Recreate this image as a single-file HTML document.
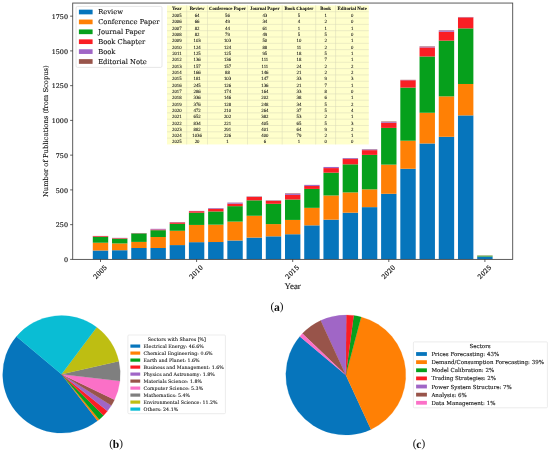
<!DOCTYPE html>
<html><head><meta charset="utf-8"><title>Figure</title>
<style>html,body{margin:0;padding:0;background:#fff}svg{display:block}</style></head>
<body>
<svg width="550" height="455" viewBox="0 0 550 455" text-rendering="geometricPrecision">
<rect width="550" height="455" fill="#fff"/>
<g shape-rendering="auto">
<rect x="92.80" y="250.50" width="15.40" height="8.90" fill="#0675bc"/>
<rect x="92.80" y="242.72" width="15.40" height="7.78" fill="#ff8005"/>
<rect x="92.80" y="236.74" width="15.40" height="5.98" fill="#06a01c"/>
<rect x="92.80" y="236.05" width="15.40" height="0.70" fill="#fa1e24"/>
<rect x="92.80" y="235.91" width="15.40" height="0.14" fill="#a066c6"/>
<rect x="112.02" y="250.23" width="15.40" height="9.17" fill="#0675bc"/>
<rect x="112.02" y="243.41" width="15.40" height="6.81" fill="#ff8005"/>
<rect x="112.02" y="238.69" width="15.40" height="4.73" fill="#06a01c"/>
<rect x="112.02" y="238.13" width="15.40" height="0.56" fill="#fa1e24"/>
<rect x="112.02" y="237.85" width="15.40" height="0.28" fill="#a066c6"/>
<rect x="131.24" y="248.00" width="15.40" height="11.40" fill="#0675bc"/>
<rect x="131.24" y="241.89" width="15.40" height="6.12" fill="#ff8005"/>
<rect x="131.24" y="233.41" width="15.40" height="8.48" fill="#06a01c"/>
<rect x="131.24" y="233.27" width="15.40" height="0.14" fill="#fa1e24"/>
<rect x="131.24" y="233.13" width="15.40" height="0.14" fill="#a066c6"/>
<rect x="131.24" y="232.99" width="15.40" height="0.14" fill="#98544a"/>
<rect x="150.46" y="248.00" width="15.40" height="11.40" fill="#0675bc"/>
<rect x="150.46" y="237.02" width="15.40" height="10.98" fill="#ff8005"/>
<rect x="150.46" y="230.21" width="15.40" height="6.81" fill="#06a01c"/>
<rect x="150.46" y="229.51" width="15.40" height="0.69" fill="#fa1e24"/>
<rect x="150.46" y="228.82" width="15.40" height="0.69" fill="#a066c6"/>
<rect x="169.68" y="245.08" width="15.40" height="14.32" fill="#0675bc"/>
<rect x="169.68" y="230.77" width="15.40" height="14.32" fill="#ff8005"/>
<rect x="169.68" y="223.82" width="15.40" height="6.95" fill="#06a01c"/>
<rect x="169.68" y="222.43" width="15.40" height="1.39" fill="#fa1e24"/>
<rect x="169.68" y="222.15" width="15.40" height="0.28" fill="#a066c6"/>
<rect x="169.68" y="222.01" width="15.40" height="0.14" fill="#98544a"/>
<rect x="188.90" y="242.16" width="15.40" height="17.24" fill="#0675bc"/>
<rect x="188.90" y="224.93" width="15.40" height="17.24" fill="#ff8005"/>
<rect x="188.90" y="212.70" width="15.40" height="12.23" fill="#06a01c"/>
<rect x="188.90" y="211.17" width="15.40" height="1.53" fill="#fa1e24"/>
<rect x="188.90" y="210.89" width="15.40" height="0.28" fill="#a066c6"/>
<rect x="208.12" y="242.02" width="15.40" height="17.38" fill="#0675bc"/>
<rect x="208.12" y="224.65" width="15.40" height="17.38" fill="#ff8005"/>
<rect x="208.12" y="211.44" width="15.40" height="13.20" fill="#06a01c"/>
<rect x="208.12" y="208.94" width="15.40" height="2.50" fill="#fa1e24"/>
<rect x="208.12" y="208.25" width="15.40" height="0.69" fill="#a066c6"/>
<rect x="208.12" y="208.11" width="15.40" height="0.14" fill="#98544a"/>
<rect x="227.34" y="240.50" width="15.40" height="18.90" fill="#0675bc"/>
<rect x="227.34" y="221.59" width="15.40" height="18.90" fill="#ff8005"/>
<rect x="227.34" y="206.16" width="15.40" height="15.43" fill="#06a01c"/>
<rect x="227.34" y="203.66" width="15.40" height="2.50" fill="#fa1e24"/>
<rect x="227.34" y="202.69" width="15.40" height="0.97" fill="#a066c6"/>
<rect x="227.34" y="202.55" width="15.40" height="0.14" fill="#98544a"/>
<rect x="246.56" y="237.58" width="15.40" height="21.82" fill="#0675bc"/>
<rect x="246.56" y="215.75" width="15.40" height="21.82" fill="#ff8005"/>
<rect x="246.56" y="200.32" width="15.40" height="15.43" fill="#06a01c"/>
<rect x="246.56" y="196.99" width="15.40" height="3.34" fill="#fa1e24"/>
<rect x="246.56" y="196.71" width="15.40" height="0.28" fill="#a066c6"/>
<rect x="246.56" y="196.43" width="15.40" height="0.28" fill="#98544a"/>
<rect x="265.78" y="236.33" width="15.40" height="23.07" fill="#0675bc"/>
<rect x="265.78" y="224.09" width="15.40" height="12.23" fill="#ff8005"/>
<rect x="265.78" y="203.80" width="15.40" height="20.29" fill="#06a01c"/>
<rect x="265.78" y="200.88" width="15.40" height="2.92" fill="#fa1e24"/>
<rect x="265.78" y="200.60" width="15.40" height="0.28" fill="#a066c6"/>
<rect x="265.78" y="200.32" width="15.40" height="0.28" fill="#98544a"/>
<rect x="285.00" y="234.24" width="15.40" height="25.16" fill="#0675bc"/>
<rect x="285.00" y="219.92" width="15.40" height="14.32" fill="#ff8005"/>
<rect x="285.00" y="199.49" width="15.40" height="20.43" fill="#06a01c"/>
<rect x="285.00" y="194.90" width="15.40" height="4.59" fill="#fa1e24"/>
<rect x="285.00" y="193.65" width="15.40" height="1.25" fill="#a066c6"/>
<rect x="285.00" y="193.24" width="15.40" height="0.42" fill="#98544a"/>
<rect x="304.22" y="225.34" width="15.40" height="34.06" fill="#0675bc"/>
<rect x="304.22" y="207.83" width="15.40" height="17.51" fill="#ff8005"/>
<rect x="304.22" y="188.93" width="15.40" height="18.90" fill="#06a01c"/>
<rect x="304.22" y="186.01" width="15.40" height="2.92" fill="#fa1e24"/>
<rect x="304.22" y="185.03" width="15.40" height="0.97" fill="#a066c6"/>
<rect x="304.22" y="184.90" width="15.40" height="0.14" fill="#98544a"/>
<rect x="323.44" y="219.65" width="15.40" height="39.75" fill="#0675bc"/>
<rect x="323.44" y="195.46" width="15.40" height="24.19" fill="#ff8005"/>
<rect x="323.44" y="172.66" width="15.40" height="22.80" fill="#06a01c"/>
<rect x="323.44" y="168.08" width="15.40" height="4.59" fill="#fa1e24"/>
<rect x="323.44" y="166.96" width="15.40" height="1.11" fill="#a066c6"/>
<rect x="342.66" y="212.70" width="15.40" height="46.70" fill="#0675bc"/>
<rect x="342.66" y="192.40" width="15.40" height="20.29" fill="#ff8005"/>
<rect x="342.66" y="164.32" width="15.40" height="28.08" fill="#06a01c"/>
<rect x="342.66" y="159.04" width="15.40" height="5.28" fill="#fa1e24"/>
<rect x="342.66" y="158.21" width="15.40" height="0.83" fill="#a066c6"/>
<rect x="342.66" y="158.07" width="15.40" height="0.14" fill="#98544a"/>
<rect x="361.88" y="207.14" width="15.40" height="52.26" fill="#0675bc"/>
<rect x="361.88" y="189.34" width="15.40" height="17.79" fill="#ff8005"/>
<rect x="361.88" y="154.87" width="15.40" height="34.47" fill="#06a01c"/>
<rect x="361.88" y="150.15" width="15.40" height="4.73" fill="#fa1e24"/>
<rect x="361.88" y="149.45" width="15.40" height="0.69" fill="#a066c6"/>
<rect x="361.88" y="149.17" width="15.40" height="0.28" fill="#98544a"/>
<rect x="381.10" y="193.79" width="15.40" height="65.61" fill="#0675bc"/>
<rect x="381.10" y="164.60" width="15.40" height="29.19" fill="#ff8005"/>
<rect x="381.10" y="127.91" width="15.40" height="36.70" fill="#06a01c"/>
<rect x="381.10" y="122.76" width="15.40" height="5.14" fill="#fa1e24"/>
<rect x="381.10" y="122.07" width="15.40" height="0.70" fill="#a066c6"/>
<rect x="381.10" y="121.51" width="15.40" height="0.56" fill="#98544a"/>
<rect x="400.32" y="168.77" width="15.40" height="90.63" fill="#0675bc"/>
<rect x="400.32" y="140.69" width="15.40" height="28.08" fill="#ff8005"/>
<rect x="400.32" y="87.60" width="15.40" height="53.10" fill="#06a01c"/>
<rect x="400.32" y="80.23" width="15.40" height="7.37" fill="#fa1e24"/>
<rect x="400.32" y="79.95" width="15.40" height="0.28" fill="#a066c6"/>
<rect x="400.32" y="79.81" width="15.40" height="0.14" fill="#98544a"/>
<rect x="419.54" y="143.47" width="15.40" height="115.93" fill="#0675bc"/>
<rect x="419.54" y="112.75" width="15.40" height="30.72" fill="#ff8005"/>
<rect x="419.54" y="56.46" width="15.40" height="56.29" fill="#06a01c"/>
<rect x="419.54" y="47.43" width="15.40" height="9.03" fill="#fa1e24"/>
<rect x="419.54" y="46.73" width="15.40" height="0.70" fill="#a066c6"/>
<rect x="419.54" y="46.31" width="15.40" height="0.42" fill="#98544a"/>
<rect x="438.76" y="136.80" width="15.40" height="122.60" fill="#0675bc"/>
<rect x="438.76" y="96.35" width="15.40" height="40.45" fill="#ff8005"/>
<rect x="438.76" y="40.61" width="15.40" height="55.74" fill="#06a01c"/>
<rect x="438.76" y="31.72" width="15.40" height="8.90" fill="#fa1e24"/>
<rect x="438.76" y="30.47" width="15.40" height="1.25" fill="#a066c6"/>
<rect x="438.76" y="30.19" width="15.40" height="0.28" fill="#98544a"/>
<rect x="457.98" y="115.40" width="15.40" height="144.00" fill="#0675bc"/>
<rect x="457.98" y="83.98" width="15.40" height="31.41" fill="#ff8005"/>
<rect x="457.98" y="28.38" width="15.40" height="55.60" fill="#06a01c"/>
<rect x="457.98" y="17.40" width="15.40" height="10.98" fill="#fa1e24"/>
<rect x="457.98" y="17.12" width="15.40" height="0.28" fill="#a066c6"/>
<rect x="457.98" y="16.98" width="15.40" height="0.14" fill="#98544a"/>
<rect x="477.20" y="256.62" width="15.40" height="2.78" fill="#0675bc"/>
<rect x="477.20" y="256.48" width="15.40" height="0.14" fill="#ff8005"/>
<rect x="477.20" y="255.65" width="15.40" height="0.83" fill="#06a01c"/>
<rect x="477.20" y="255.51" width="15.40" height="0.14" fill="#fa1e24"/>
</g>
<rect x="167.0" y="5.4" width="201.80" height="139.04" fill="#ffffcc"/>
<g stroke="#d8d8b8" stroke-width="0.5">
<line x1="167.0" y1="11.72" x2="368.8" y2="11.72"/>
<line x1="167.0" y1="18.04" x2="368.8" y2="18.04"/>
<line x1="167.0" y1="24.36" x2="368.8" y2="24.36"/>
<line x1="167.0" y1="30.68" x2="368.8" y2="30.68"/>
<line x1="167.0" y1="37.00" x2="368.8" y2="37.00"/>
<line x1="167.0" y1="43.32" x2="368.8" y2="43.32"/>
<line x1="167.0" y1="49.64" x2="368.8" y2="49.64"/>
<line x1="167.0" y1="55.96" x2="368.8" y2="55.96"/>
<line x1="167.0" y1="62.28" x2="368.8" y2="62.28"/>
<line x1="167.0" y1="68.60" x2="368.8" y2="68.60"/>
<line x1="167.0" y1="74.92" x2="368.8" y2="74.92"/>
<line x1="167.0" y1="81.24" x2="368.8" y2="81.24"/>
<line x1="167.0" y1="87.56" x2="368.8" y2="87.56"/>
<line x1="167.0" y1="93.88" x2="368.8" y2="93.88"/>
<line x1="167.0" y1="100.20" x2="368.8" y2="100.20"/>
<line x1="167.0" y1="106.52" x2="368.8" y2="106.52"/>
<line x1="167.0" y1="112.84" x2="368.8" y2="112.84"/>
<line x1="167.0" y1="119.16" x2="368.8" y2="119.16"/>
<line x1="167.0" y1="125.48" x2="368.8" y2="125.48"/>
<line x1="167.0" y1="131.80" x2="368.8" y2="131.80"/>
<line x1="167.0" y1="138.12" x2="368.8" y2="138.12"/>
<line x1="186.7" y1="5.4" x2="186.7" y2="144.44"/>
<line x1="207.5" y1="5.4" x2="207.5" y2="144.44"/>
<line x1="247.5" y1="5.4" x2="247.5" y2="144.44"/>
<line x1="282.2" y1="5.4" x2="282.2" y2="144.44"/>
<line x1="315.7" y1="5.4" x2="315.7" y2="144.44"/>
<line x1="335.6" y1="5.4" x2="335.6" y2="144.44"/>
</g>
<g font-family="Liberation Serif, serif" font-size="4.8" text-anchor="middle" fill="#111" stroke="#111" stroke-width="0.07">
<text x="176.85" y="10.46" font-weight="bold">Year</text>
<text x="197.10" y="10.46" font-weight="bold">Review</text>
<text x="227.50" y="10.46" font-weight="bold">Conference Paper</text>
<text x="264.85" y="10.46" font-weight="bold">Journal Paper</text>
<text x="298.95" y="10.46" font-weight="bold">Book Chapter</text>
<text x="325.65" y="10.46" font-weight="bold">Book</text>
<text x="352.20" y="10.46" font-weight="bold">Editorial Note</text>
<text x="176.85" y="17.08">2005</text>
<text x="197.10" y="17.08">64</text>
<text x="227.50" y="17.08">56</text>
<text x="264.85" y="17.08">43</text>
<text x="298.95" y="17.08">5</text>
<text x="325.65" y="17.08">1</text>
<text x="352.20" y="17.08">0</text>
<text x="176.85" y="23.40">2006</text>
<text x="197.10" y="23.40">66</text>
<text x="227.50" y="23.40">49</text>
<text x="264.85" y="23.40">34</text>
<text x="298.95" y="23.40">4</text>
<text x="325.65" y="23.40">2</text>
<text x="352.20" y="23.40">0</text>
<text x="176.85" y="29.72">2007</text>
<text x="197.10" y="29.72">82</text>
<text x="227.50" y="29.72">44</text>
<text x="264.85" y="29.72">61</text>
<text x="298.95" y="29.72">1</text>
<text x="325.65" y="29.72">1</text>
<text x="352.20" y="29.72">1</text>
<text x="176.85" y="36.04">2008</text>
<text x="197.10" y="36.04">82</text>
<text x="227.50" y="36.04">79</text>
<text x="264.85" y="36.04">49</text>
<text x="298.95" y="36.04">5</text>
<text x="325.65" y="36.04">5</text>
<text x="352.20" y="36.04">0</text>
<text x="176.85" y="42.36">2009</text>
<text x="197.10" y="42.36">103</text>
<text x="227.50" y="42.36">103</text>
<text x="264.85" y="42.36">50</text>
<text x="298.95" y="42.36">10</text>
<text x="325.65" y="42.36">2</text>
<text x="352.20" y="42.36">1</text>
<text x="176.85" y="48.68">2010</text>
<text x="197.10" y="48.68">124</text>
<text x="227.50" y="48.68">124</text>
<text x="264.85" y="48.68">88</text>
<text x="298.95" y="48.68">11</text>
<text x="325.65" y="48.68">2</text>
<text x="352.20" y="48.68">0</text>
<text x="176.85" y="55.00">2011</text>
<text x="197.10" y="55.00">125</text>
<text x="227.50" y="55.00">125</text>
<text x="264.85" y="55.00">95</text>
<text x="298.95" y="55.00">18</text>
<text x="325.65" y="55.00">5</text>
<text x="352.20" y="55.00">1</text>
<text x="176.85" y="61.32">2012</text>
<text x="197.10" y="61.32">136</text>
<text x="227.50" y="61.32">136</text>
<text x="264.85" y="61.32">111</text>
<text x="298.95" y="61.32">18</text>
<text x="325.65" y="61.32">7</text>
<text x="352.20" y="61.32">1</text>
<text x="176.85" y="67.64">2013</text>
<text x="197.10" y="67.64">157</text>
<text x="227.50" y="67.64">157</text>
<text x="264.85" y="67.64">111</text>
<text x="298.95" y="67.64">24</text>
<text x="325.65" y="67.64">2</text>
<text x="352.20" y="67.64">2</text>
<text x="176.85" y="73.96">2014</text>
<text x="197.10" y="73.96">166</text>
<text x="227.50" y="73.96">88</text>
<text x="264.85" y="73.96">146</text>
<text x="298.95" y="73.96">21</text>
<text x="325.65" y="73.96">2</text>
<text x="352.20" y="73.96">2</text>
<text x="176.85" y="80.28">2015</text>
<text x="197.10" y="80.28">181</text>
<text x="227.50" y="80.28">103</text>
<text x="264.85" y="80.28">147</text>
<text x="298.95" y="80.28">33</text>
<text x="325.65" y="80.28">9</text>
<text x="352.20" y="80.28">3</text>
<text x="176.85" y="86.60">2016</text>
<text x="197.10" y="86.60">245</text>
<text x="227.50" y="86.60">126</text>
<text x="264.85" y="86.60">136</text>
<text x="298.95" y="86.60">21</text>
<text x="325.65" y="86.60">7</text>
<text x="352.20" y="86.60">1</text>
<text x="176.85" y="92.92">2017</text>
<text x="197.10" y="92.92">286</text>
<text x="227.50" y="92.92">174</text>
<text x="264.85" y="92.92">164</text>
<text x="298.95" y="92.92">33</text>
<text x="325.65" y="92.92">8</text>
<text x="352.20" y="92.92">0</text>
<text x="176.85" y="99.24">2018</text>
<text x="197.10" y="99.24">336</text>
<text x="227.50" y="99.24">146</text>
<text x="264.85" y="99.24">202</text>
<text x="298.95" y="99.24">38</text>
<text x="325.65" y="99.24">6</text>
<text x="352.20" y="99.24">1</text>
<text x="176.85" y="105.56">2019</text>
<text x="197.10" y="105.56">376</text>
<text x="227.50" y="105.56">128</text>
<text x="264.85" y="105.56">248</text>
<text x="298.95" y="105.56">34</text>
<text x="325.65" y="105.56">5</text>
<text x="352.20" y="105.56">2</text>
<text x="176.85" y="111.88">2020</text>
<text x="197.10" y="111.88">472</text>
<text x="227.50" y="111.88">210</text>
<text x="264.85" y="111.88">264</text>
<text x="298.95" y="111.88">37</text>
<text x="325.65" y="111.88">5</text>
<text x="352.20" y="111.88">4</text>
<text x="176.85" y="118.20">2021</text>
<text x="197.10" y="118.20">652</text>
<text x="227.50" y="118.20">202</text>
<text x="264.85" y="118.20">382</text>
<text x="298.95" y="118.20">53</text>
<text x="325.65" y="118.20">2</text>
<text x="352.20" y="118.20">1</text>
<text x="176.85" y="124.52">2022</text>
<text x="197.10" y="124.52">834</text>
<text x="227.50" y="124.52">221</text>
<text x="264.85" y="124.52">405</text>
<text x="298.95" y="124.52">65</text>
<text x="325.65" y="124.52">5</text>
<text x="352.20" y="124.52">3</text>
<text x="176.85" y="130.84">2023</text>
<text x="197.10" y="130.84">882</text>
<text x="227.50" y="130.84">291</text>
<text x="264.85" y="130.84">401</text>
<text x="298.95" y="130.84">64</text>
<text x="325.65" y="130.84">9</text>
<text x="352.20" y="130.84">2</text>
<text x="176.85" y="137.16">2024</text>
<text x="197.10" y="137.16">1036</text>
<text x="227.50" y="137.16">226</text>
<text x="264.85" y="137.16">400</text>
<text x="298.95" y="137.16">79</text>
<text x="325.65" y="137.16">2</text>
<text x="352.20" y="137.16">1</text>
<text x="176.85" y="143.48">2025</text>
<text x="197.10" y="143.48">20</text>
<text x="227.50" y="143.48">1</text>
<text x="264.85" y="143.48">6</text>
<text x="298.95" y="143.48">1</text>
<text x="325.65" y="143.48">0</text>
<text x="352.20" y="143.48">0</text>
</g>
<rect x="72.7" y="3.05" width="440.00000000000006" height="256.34999999999997" fill="none" stroke="#4a4a4a" stroke-width="0.9"/>
<g font-family="DejaVu Serif, Liberation Serif, serif" stroke="#111" font-size="6.4" text-anchor="end" fill="#111" stroke-width="0.16">
<line x1="70.10000000000001" y1="259.40" x2="72.7" y2="259.40" stroke="#222" stroke-width="0.7"/>
<text x="68.00" y="262.00">0</text>
<line x1="70.10000000000001" y1="224.65" x2="72.7" y2="224.65" stroke="#222" stroke-width="0.7"/>
<text x="68.00" y="227.25">250</text>
<line x1="70.10000000000001" y1="189.90" x2="72.7" y2="189.90" stroke="#222" stroke-width="0.7"/>
<text x="68.00" y="192.50">500</text>
<line x1="70.10000000000001" y1="155.15" x2="72.7" y2="155.15" stroke="#222" stroke-width="0.7"/>
<text x="68.00" y="157.75">750</text>
<line x1="70.10000000000001" y1="120.40" x2="72.7" y2="120.40" stroke="#222" stroke-width="0.7"/>
<text x="68.00" y="123.00">1000</text>
<line x1="70.10000000000001" y1="85.65" x2="72.7" y2="85.65" stroke="#222" stroke-width="0.7"/>
<text x="68.00" y="88.25">1250</text>
<line x1="70.10000000000001" y1="50.90" x2="72.7" y2="50.90" stroke="#222" stroke-width="0.7"/>
<text x="68.00" y="53.50">1500</text>
<line x1="70.10000000000001" y1="16.15" x2="72.7" y2="16.15" stroke="#222" stroke-width="0.7"/>
<text x="68.00" y="18.75">1750</text>
</g>
<g font-family="DejaVu Serif, Liberation Serif, serif" stroke="#111" font-size="6.4" text-anchor="middle" fill="#111" stroke-width="0.16">
<line x1="100.50" y1="259.4" x2="100.50" y2="262.0" stroke="#222" stroke-width="0.7"/>
<text transform="translate(100.00,272.0) rotate(-45)" x="0" y="2.3">2005</text>
<line x1="196.60" y1="259.4" x2="196.60" y2="262.0" stroke="#222" stroke-width="0.7"/>
<text transform="translate(196.10,272.0) rotate(-45)" x="0" y="2.3">2010</text>
<line x1="292.70" y1="259.4" x2="292.70" y2="262.0" stroke="#222" stroke-width="0.7"/>
<text transform="translate(292.20,272.0) rotate(-45)" x="0" y="2.3">2015</text>
<line x1="388.80" y1="259.4" x2="388.80" y2="262.0" stroke="#222" stroke-width="0.7"/>
<text transform="translate(388.30,272.0) rotate(-45)" x="0" y="2.3">2020</text>
<line x1="484.90" y1="259.4" x2="484.90" y2="262.0" stroke="#222" stroke-width="0.7"/>
<text transform="translate(484.40,272.0) rotate(-45)" x="0" y="2.3">2025</text>
</g>
<text font-family="DejaVu Serif, Liberation Serif, serif" stroke="#111" font-size="6.77" text-anchor="middle" fill="#111" stroke-width="0.1" transform="translate(47.8,131.2) rotate(-90)">Number of Publications (from Scopus)</text>
<text font-family="Liberation Serif, serif" font-size="8.8" text-anchor="middle" fill="#111" stroke="#111" stroke-width="0.12" x="292.7" y="289.4">Year</text>
<rect x="76.1" y="6.4" width="85.9" height="61.0" rx="1.4" fill="#fff" fill-opacity="0.8" stroke="#dcdcdc" stroke-width="0.7"/>
<g font-family="DejaVu Serif, Liberation Serif, serif" stroke="#111" font-size="6.75" fill="#111" stroke-width="0.1">
<rect x="78.9" y="9.65" width="13.7" height="4.7" fill="#0675bc" stroke="none"/>
<text x="98.2" y="14.40">Review</text>
<rect x="78.9" y="19.55" width="13.7" height="4.7" fill="#ff8005" stroke="none"/>
<text x="98.2" y="24.30">Conference Paper</text>
<rect x="78.9" y="29.45" width="13.7" height="4.7" fill="#06a01c" stroke="none"/>
<text x="98.2" y="34.20">Journal Paper</text>
<rect x="78.9" y="39.35" width="13.7" height="4.7" fill="#fa1e24" stroke="none"/>
<text x="98.2" y="44.10">Book Chapter</text>
<rect x="78.9" y="49.25" width="13.7" height="4.7" fill="#a066c6" stroke="none"/>
<text x="98.2" y="54.00">Book</text>
<rect x="78.9" y="59.15" width="13.7" height="4.7" fill="#98544a" stroke="none"/>
<text x="98.2" y="63.90">Editorial Note</text>
</g>
<text font-family="Liberation Serif, serif" font-size="11.6" text-anchor="middle" fill="#111" x="277" y="310.5"><tspan font-size="11.2" dy="-0.2">(</tspan><tspan font-weight="bold" dy="0.2" dx="-0.1">a</tspan><tspan font-size="11.2" dy="-0.2" dx="-0.1">)</tspan></text>
<text font-family="Liberation Serif, serif" font-size="11.6" text-anchor="middle" fill="#111" x="116.1" y="447.5"><tspan font-size="11.2" dy="-0.2">(</tspan><tspan font-weight="bold" dy="0.2" dx="-0.1">b</tspan><tspan font-size="11.2" dy="-0.2" dx="-0.1">)</tspan></text>
<text font-family="Liberation Serif, serif" font-size="11.6" text-anchor="middle" fill="#111" x="418.9" y="447.5"><tspan font-size="11.2" dy="-0.2">(</tspan><tspan font-weight="bold" dy="0.2" dx="-0.1">c</tspan><tspan font-size="11.2" dy="-0.2" dx="-0.1">)</tspan></text>
<path d="M61.5,374.3L16.46,336.50A58.8,58.8 0 0 0 97.51,420.79Z" fill="#0675bc" stroke="#0675bc" stroke-width="0.2"/>
<path d="M61.5,374.3L97.51,420.79A58.8,58.8 0 0 0 99.23,419.40Z" fill="#ff8005" stroke="#ff8005" stroke-width="0.2"/>
<path d="M61.5,374.3L99.23,419.40A58.8,58.8 0 0 0 103.57,415.38Z" fill="#06a01c" stroke="#06a01c" stroke-width="0.2"/>
<path d="M61.5,374.3L103.57,415.38A58.8,58.8 0 0 0 107.48,410.95Z" fill="#fa1e24" stroke="#fa1e24" stroke-width="0.2"/>
<path d="M61.5,374.3L107.48,410.95A58.8,58.8 0 0 0 111.32,405.53Z" fill="#a066c6" stroke="#a066c6" stroke-width="0.2"/>
<path d="M61.5,374.3L111.32,405.53A58.8,58.8 0 0 0 114.53,399.71Z" fill="#98544a" stroke="#98544a" stroke-width="0.2"/>
<path d="M61.5,374.3L114.53,399.71A58.8,58.8 0 0 0 119.92,380.98Z" fill="#fb70c7" stroke="#fb70c7" stroke-width="0.2"/>
<path d="M61.5,374.3L119.92,380.98A58.8,58.8 0 0 0 118.81,361.15Z" fill="#7f7f7f" stroke="#7f7f7f" stroke-width="0.2"/>
<path d="M61.5,374.3L118.81,361.15A58.8,58.8 0 0 0 96.69,327.19Z" fill="#bebe12" stroke="#bebe12" stroke-width="0.2"/>
<path d="M61.5,374.3L96.69,327.19A58.8,58.8 0 0 0 16.46,336.50Z" fill="#0abdd4" stroke="#0abdd4" stroke-width="0.2"/>
<path d="M345.8,375.0L299.84,336.43A60.0,60.0 0 0 0 370.97,429.47Z" fill="#0675bc" stroke="#0675bc" stroke-width="0.2"/>
<path d="M345.8,375.0L370.97,429.47A60.0,60.0 0 0 0 361.13,316.99Z" fill="#ff8005" stroke="#ff8005" stroke-width="0.2"/>
<path d="M345.8,375.0L361.13,316.99A60.0,60.0 0 0 0 353.74,315.53Z" fill="#06a01c" stroke="#06a01c" stroke-width="0.2"/>
<path d="M345.8,375.0L353.74,315.53A60.0,60.0 0 0 0 346.22,315.00Z" fill="#fa1e24" stroke="#fa1e24" stroke-width="0.2"/>
<path d="M345.8,375.0L346.22,315.00A60.0,60.0 0 0 0 320.63,320.53Z" fill="#a066c6" stroke="#a066c6" stroke-width="0.2"/>
<path d="M345.8,375.0L320.63,320.53A60.0,60.0 0 0 0 302.35,333.62Z" fill="#98544a" stroke="#98544a" stroke-width="0.2"/>
<path d="M345.8,375.0L302.35,333.62A60.0,60.0 0 0 0 299.84,336.43Z" fill="#fb70c7" stroke="#fb70c7" stroke-width="0.2"/>
<rect x="127.9" y="335.0" width="97.5" height="78.7" rx="1" fill="#fff" stroke="#d8d8d8" stroke-width="0.5"/>
<g font-family="DejaVu Serif, Liberation Serif, serif" stroke="#111" font-size="4.76" fill="#111" stroke-width="0.09">
<text x="176.8" y="340.90" text-anchor="middle">Sectors with Shares [%]</text>
<rect x="130.4" y="344.50" width="9.8" height="3.2" fill="#0675bc" stroke="none"/>
<text x="143.6" y="347.80">Electrical Energy: 46.6%</text>
<rect x="130.4" y="351.50" width="9.8" height="3.2" fill="#ff8005" stroke="none"/>
<text x="143.6" y="354.80">Chemical Engineering: 0.6%</text>
<rect x="130.4" y="358.50" width="9.8" height="3.2" fill="#06a01c" stroke="none"/>
<text x="143.6" y="361.80">Earth and Planet: 1.6%</text>
<rect x="130.4" y="365.50" width="9.8" height="3.2" fill="#fa1e24" stroke="none"/>
<text x="143.6" y="368.80">Business and Management: 1.6%</text>
<rect x="130.4" y="372.50" width="9.8" height="3.2" fill="#a066c6" stroke="none"/>
<text x="143.6" y="375.80">Physics and Astronomy: 1.8%</text>
<rect x="130.4" y="379.50" width="9.8" height="3.2" fill="#98544a" stroke="none"/>
<text x="143.6" y="382.80">Materials Science: 1.8%</text>
<rect x="130.4" y="386.50" width="9.8" height="3.2" fill="#fb70c7" stroke="none"/>
<text x="143.6" y="389.80">Computer Science: 5.3%</text>
<rect x="130.4" y="393.50" width="9.8" height="3.2" fill="#7f7f7f" stroke="none"/>
<text x="143.6" y="396.80">Mathematics: 5.4%</text>
<rect x="130.4" y="400.50" width="9.8" height="3.2" fill="#bebe12" stroke="none"/>
<text x="143.6" y="403.80">Environmental Science: 11.2%</text>
<rect x="130.4" y="407.50" width="9.8" height="3.2" fill="#0abdd4" stroke="none"/>
<text x="143.6" y="410.80">Others: 24.1%</text>
</g>
<rect x="413.4" y="341.9" width="134.0" height="65.9" rx="1" fill="#fff" stroke="#d8d8d8" stroke-width="0.5"/>
<g font-family="DejaVu Serif, Liberation Serif, serif" stroke="#111" font-size="5.5" fill="#111" stroke-width="0.11">
<text x="480.1" y="347.80" text-anchor="middle">Sectors</text>
<rect x="416.1" y="352.10" width="10.8" height="3.8" fill="#0675bc" stroke="none"/>
<text x="431.4" y="356.00">Prices Forecasting: 43%</text>
<rect x="416.1" y="360.23" width="10.8" height="3.8" fill="#ff8005" stroke="none"/>
<text x="431.4" y="364.13">Demand/Consumption Forecasting: 39%</text>
<rect x="416.1" y="368.36" width="10.8" height="3.8" fill="#06a01c" stroke="none"/>
<text x="431.4" y="372.26">Model Calibration: 2%</text>
<rect x="416.1" y="376.49" width="10.8" height="3.8" fill="#fa1e24" stroke="none"/>
<text x="431.4" y="380.39">Trading Strategies: 2%</text>
<rect x="416.1" y="384.62" width="10.8" height="3.8" fill="#a066c6" stroke="none"/>
<text x="431.4" y="388.52">Power System Structure: 7%</text>
<rect x="416.1" y="392.75" width="10.8" height="3.8" fill="#98544a" stroke="none"/>
<text x="431.4" y="396.65">Analysis: 6%</text>
<rect x="416.1" y="400.88" width="10.8" height="3.8" fill="#fb70c7" stroke="none"/>
<text x="431.4" y="404.78">Data Management: 1%</text>
</g>
</svg>
</body></html>
